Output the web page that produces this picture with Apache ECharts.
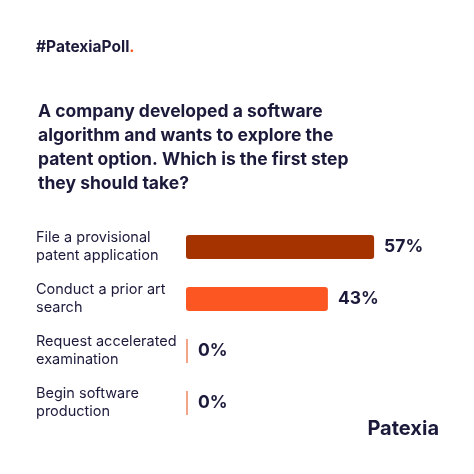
<!DOCTYPE html>
<html>
<head>
<meta charset="utf-8">
<script src="https://cdn.jsdelivr.net/npm/echarts@6/dist/echarts.min.js"></script>
<style>
  html, body { margin: 0; padding: 0; background: #fff; }
  #chart { width: 474px; height: 474px; }
</style>
</head>
<body>
<div id="chart"></div>
<script>
const categories = [
    'File a provisional\npatent application',
    'Conduct a prior art\nsearch',
    'Request accelerated\nexamination',
    'Begin software\nproduction'
]
const values = [57, 43, 0, 0]
const barColors = ['#A53300', '#FC5722', '#F2A488', '#F2A488']

const navy = '#1B1A3A'
const font = 'Inter, "Noto Sans", sans-serif'

const chart = echarts.init(document.getElementById('chart'))

const option = {
    backgroundColor: '#ffffff',
    animation: false,
    textStyle: { fontFamily: font },
    title: [
        {
            text: '#PatexiaPoll{dot|.}',
            left: 36,
            top: 39,
            padding: 0,
            textStyle: {
                fontFamily: font,
                fontSize: 15.5,
                fontWeight: 'bold',
                color: navy,
                rich: {
                    dot: { fontFamily: font, fontSize: 15.5, fontWeight: 'bold', color: '#FC5722' }
                }
            }
        },
        {
            text: 'A company developed a software\nalgorithm and wants to explore the\npatent option. Which is the first step\nthey should take?',
            left: 38,
            top: 100,
            padding: 0,
            textStyle: {
                fontFamily: font,
                fontSize: 17.5,
                fontWeight: 'bold',
                color: navy,
                lineHeight: 24
            }
        },
        {
            text: 'Patexia',
            right: 35,
            top: 419,
            padding: 0,
            textStyle: {
                fontFamily: font,
                fontSize: 20,
                fontWeight: 'bold',
                color: navy
            }
        }
    ],
    grid: { left: 186, right: 24, top: 221, bottom: 45 },
    xAxis: {
        type: 'value',
        min: 0,
        max: 80,
        show: false
    },
    yAxis: {
        type: 'category',
        inverse: true,
        data: categories,
        axisLine: { show: false },
        axisTick: { show: false },
        axisLabel: {
            align: 'left',
            margin: 150,
            fontFamily: font,
            fontSize: 14.5,
            lineHeight: 18,
            color: navy
        }
    },
    series: [{
        type: 'bar',
        barWidth: 24,
        barMinHeight: 2,
        data: values.map((v, i) => ({
            value: v,
            itemStyle: {
                color: barColors[i],
                borderRadius: v > 0 ? 3 : 0
            }
        })),
        label: {
            show: true,
            position: 'right',
            distance: 10,
            formatter: '{c}%',
            fontFamily: font,
            fontSize: 17.5,
            fontWeight: 'bold',
            color: navy
        }
    }]
}

chart.setOption(option)
window.addEventListener('resize', () => chart.resize())
</script>
</body>
</html>
